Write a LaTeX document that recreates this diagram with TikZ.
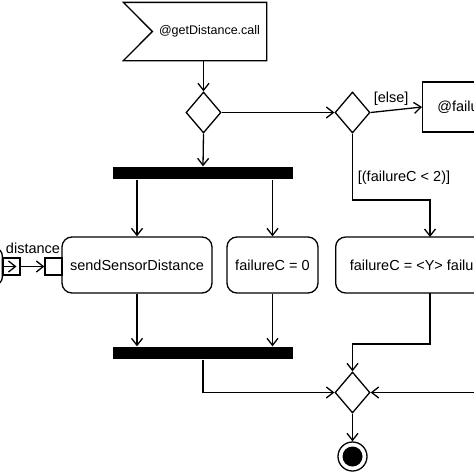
\documentclass[tikz,border=0pt]{standalone}
\usepackage{fontspec}
\setmainfont{Liberation Sans}
\usetikzlibrary{arrows.meta,shapes.geometric,positioning}
\begin{document}
\begin{tikzpicture}[x=1pt,y=-1pt,
  every node/.style={font=\fontsize{14.5}{16}\selectfont},
  line width=1.3pt,
  arr/.style={-{Straight Barb[length=7pt,width=11pt]}},
  act/.style={draw,rounded corners=10pt,minimum height=56pt,inner sep=0pt},
  dec/.style={draw,diamond,minimum width=35pt,minimum height=41pt,inner sep=0pt},
  bar/.style={fill=black,draw=none,minimum width=180pt,minimum height=12pt,inner sep=0pt},
  pinbox/.style={draw,minimum width=17pt,minimum height=17pt,inner sep=0pt},
  sig/.style={draw,minimum height=50pt,inner sep=0pt}]
\useasboundingbox (0,0) rectangle (474,474);
\clip (0,0) rectangle (474,474);

% accept event (flag)
\node[minimum width=113pt,minimum height=57pt,inner sep=0pt,font=\fontsize{12.5}{14}\selectfont] (ev) at (209.5,31.5) {@getDistance.call};
\draw ([xshift=-29pt]ev.north west) -- (ev.north east) -- (ev.south east) -- ([xshift=-29pt]ev.south west) -- (ev.west) -- cycle;

% decisions
\node[dec] (d1) at (203.5,112.5) {};
\node[dec] (d2) at (352.5,112.5) {};
\node[dec] (d3) at (352.5,392.5) {};

% signal box right
\node[sig,anchor=west,inner xsep=11pt,minimum width=120pt,align=left] (fail) at (422,107) {@failureC.call};

% bars
\node[bar] (b1) at (203,173) {};
\node[bar] (b2) at (203,353) {};

% actions
\node[act,minimum width=150pt] (s1) at (137,265) {sendSensorDistance};
\node[act,minimum width=91pt] (s2) at (272.5,265) {failureC = 0};
\node[act,anchor=west,inner xsep=7pt,minimum width=200pt,align=left] (s3) at (335,265) {failureC = <Y> failureC + 1};
\coordinate (s3top) at (430,237);
\coordinate (s3bot) at (430,293);

% off-screen action and pins
\node[act,anchor=east,minimum width=60pt,minimum height=37pt,rounded corners=8pt] (prev) at (3,266.5) {};
\node[pinbox,fill=white] (pin0) at (11.5,266.5) {};
\node[pinbox,fill=white] (pin1) at (53.5,266.5) {};
\draw[arr] ([xshift=-8pt]pin0.center) -- ([xshift=5pt]pin0.center);
\draw[arr] (pin0.east) -- (pin1.west);
\node (dlab) at (33,248) {distance};

% final node
\node[draw,circle,minimum size=29pt,inner sep=0pt] (fin) at (352.5,456.5) {};
\fill (fin.center) circle (10pt);

% connectors
\draw[arr] (d1.north |- ev.south) -- (d1.north);
\draw[arr] (d1.east) -- (d2.west);
\draw[arr] (d2.east) -- node[above,yshift=1pt,pos=0.4] (elab) {[else]} (fail.west);
\draw[arr] (d1.south) -- (b1.north);
\draw[arr] (b1.south -| s1.north) -- (s1.north);
\draw[arr] (b1.south -| s2.north) -- (s2.north);
\draw[arr] (d2.south) |- (391,200) -| (s3top);
\node (glab) at (404,178) {[(failureC < 2)]};
\draw[arr] (s1.south) -- (s1.south |- b2.north);
\draw[arr] (s2.south) -- (s2.south |- b2.north);
\draw[arr] (b2.south) |- (d3.west);
\draw[arr] (s3bot) |- (391,344) -| (d3.north);
\coordinate (rin) at (480,392.5);
\draw[arr] (rin) -- (d3.east);
\draw[arr] (d3.south) -- (fin.north);
\end{tikzpicture}
\end{document}
